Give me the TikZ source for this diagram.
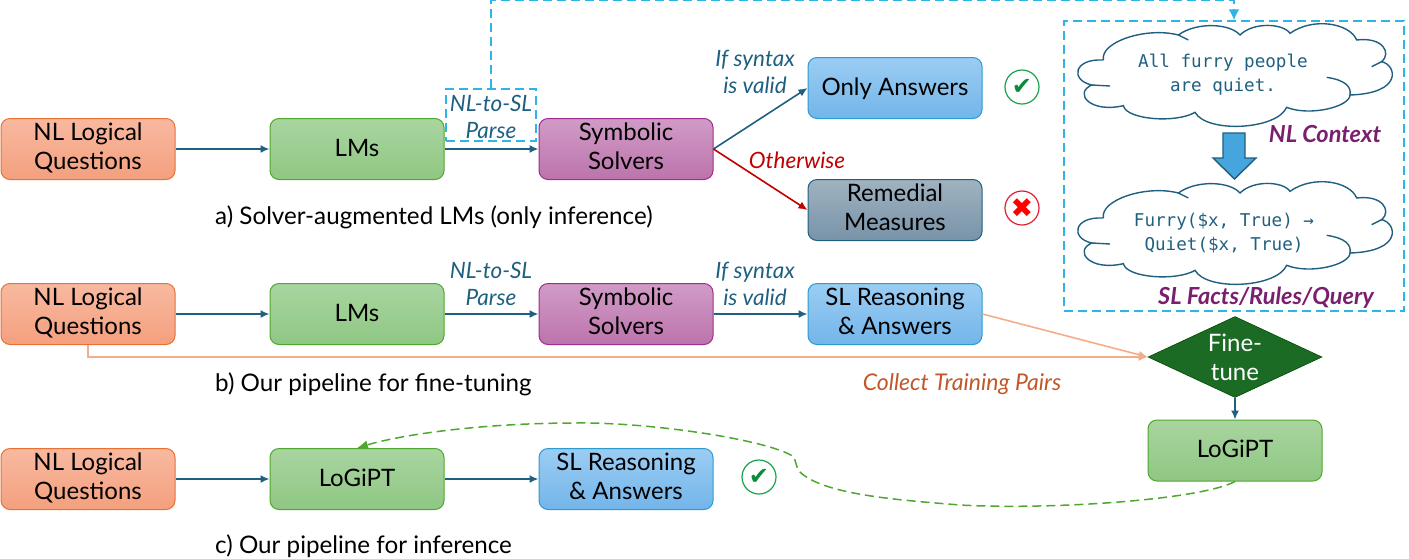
\documentclass[tikz,border=0pt]{standalone}
\usepackage{fontspec}
\setmainfont{Lato}
\newfontfamily\codefont{DejaVu Sans Mono}
\newfontfamily\markfont{DejaVu Sans}
\usetikzlibrary{shapes.geometric,arrows.meta}
\definecolor{flowblue}{HTML}{1F5F80}
\definecolor{dashcyan}{HTML}{2DB5E8}
\definecolor{softred}{HTML}{C00000}
\definecolor{pairorange}{HTML}{F2AE8A}
\definecolor{pairtext}{HTML}{C0562A}
\definecolor{factpurple}{HTML}{7A1F6E}
\definecolor{loopgreen}{HTML}{4EA72E}
\definecolor{okgreen}{HTML}{16A34A}
\newcommand{\topstrut}{\rule{0pt}{20.5pt}}
\newcommand{\lowstrut}{\rule[-6pt]{0pt}{6pt}}
\tikzset{
    mycloud/.pic = {
        \draw[flowblue, line width = 1.4pt, x = 0.3333pt, y = -0.3333pt]
            (-395,-45) .. controls (-405,-100) and (-265,-145) .. (-170,-120)
            .. controls (-115,-160) and (-15,-155) .. (15,-120)
            .. controls (55,-160) and (145,-155) .. (165,-125)
            .. controls (235,-175) and (345,-155) .. (365,-105)
            .. controls (445,-115) and (470,-65) .. (440,-40)
            .. controls (485,-30) and (505,55) .. (345,60)
            .. controls (345,95) and (225,125) .. (155,97)
            .. controls (125,165) and (-85,175) .. (-120,112)
            .. controls (-175,145) and (-325,135) .. (-335,92)
            .. controls (-435,115) and (-485,55) .. (-430,30)
            .. controls (-495,15) and (-485,-50) .. (-395,-45);
        \draw[flowblue, line width = 1.4pt, x = 0.3333pt, y = -0.3333pt]
            (-170,-120) -- (-140,-105)
            (-430,30) -- (-375,33)
            (440,-40) -- (410,-25)
            (275,7) .. controls (330,15) and (350,35) .. (345,60);
    }
}
\begin{document}
\begin{tikzpicture}[x = 1pt, y = 1pt, node distance = 269pt,
    main/.style = {draw, rounded corners = 9pt, line width = 1pt, minimum width = 174pt, minimum height = 61pt, inner sep = 0pt, align = center, font = \fontsize{24}{29}\selectfont, execute at begin node = \topstrut, execute at end node = \lowstrut},
    askbox/.style = {main, draw = {rgb,255:red,233;green,113;blue,50}, top color = {rgb,255:red,248;green,185;blue,160}, bottom color = {rgb,255:red,244;green,160;blue,126}},
    lmbox/.style = {main, draw = loopgreen, top color = {rgb,255:red,169;green,213;blue,160}, bottom color = {rgb,255:red,143;green,199;blue,131}},
    solverbox/.style = {main, draw = {rgb,255:red,160;green,43;blue,147}, top color = {rgb,255:red,209;green,155;blue,198}, bottom color = {rgb,255:red,188;green,116;blue,172}},
    answerbox/.style = {main, draw = {rgb,255:red,43;green,155;blue,208}, top color = {rgb,255:red,155;green,205;blue,243}, bottom color = {rgb,255:red,115;green,181;blue,234}},
    remedybox/.style = {main, draw = flowblue, top color = {rgb,255:red,160;green,178;blue,192}, bottom color = {rgb,255:red,120;green,147;blue,168}},
    flow/.style = {draw = flowblue, line width = 1.6pt, -{Latex[length = 9pt, width = 8pt]}},
    pairline/.style = {flow, draw = pairorange},
    hint/.style = {flowblue, align = center, font = \fontsize{22.5}{26.5}\selectfont\itshape},
    caption/.style = {anchor = west, inner sep = 0pt, font = \fontsize{24.2}{28}\selectfont},
    dashbox/.style = {draw = dashcyan, dash pattern = on 9pt off 5pt, line width = 1.5pt, inner sep = 0pt},
    code/.style = {flowblue, align = center, font = \fontsize{17.6}{24}\codefont},
    fact/.style = {factpurple, font = \fontsize{23.5}{25}\selectfont\bfseries\itshape},
    tick/.style = {draw = okgreen, circle, line width = 1.2pt, minimum size = 34pt, inner sep = 0pt, text = {rgb,255:red,10;green,140;blue,60}, font = \fontsize{24}{24}\markfont},
    cross/.style = {draw = {rgb,255:red,224;green,30;blue,50}, circle, line width = 1.2pt, minimum size = 34pt, inner sep = 0pt, text = red, font = \fontsize{27}{27}\markfont}]
    \useasboundingbox (0,0) rectangle (1409,-558);

    % row a
    \node[askbox] (q1) at (88,-149) {NL Logical\\Questions};
    \node[lmbox] (lm1) [right of = q1] {LMs};
    \node[solverbox] (sol1) [right of = lm1] {Symbolic\\Solvers};
    \node[answerbox] (ans1) at (895,-88) {Only Answers};
    \node[remedybox] (rem1) at (895,-210) {Remedial\\Measures};
    \node[tick] (ok1) at (1022,-87) {✔};
    \node[cross] (no1) at (1022,-208) {✖};
    \node[dashbox, minimum width = 90pt, minimum height = 52pt] (parse) at (491,-115) {};
    \node[hint] (p1) at (491,-117) {NL-to-SL\\Parse};
    \node[hint] (v1) at (755,-72) {If syntax\\is valid};
    \node[hint, text = softred] (other) at (797,-160) {Otherwise};
    \node[caption] (cap1) at (215,-217) {a) Solver-augmented LMs (only inference)};

    \draw[flow] (q1) -- (lm1);
    \draw[flow] (lm1) -- (sol1);
    \draw[flow] (sol1.east) -- (ans1.west);
    \draw[flow, draw = softred] (sol1.east) -- (rem1.west);

    % facts panel
    \node[dashbox, minimum width = 340pt, minimum height = 290pt] (facts) at (1234,-166) {};
    \draw[dashbox, -{Latex[length = 11pt, width = 11pt]}] (parse.north) -- ++(0,88) -| (facts.north);
    \pic at (1235,-75) {mycloud};
    \pic at (1235,-233) {mycloud};
    \node[code] (c1) at (1223,-75) {All furry people\\are quiet.};
    \node[code] (c2) at (1224,-233) {Furry(\$x, True) →\\Quiet(\$x, True)};
    \node[fact] (f1) at (1325,-134) {NL Context};
    \node[fact] (f2) at (1266,-298) {SL Facts/Rules/Query};
    \draw[flowblue, line width = 1.4pt, fill = {rgb,255:red,69;green,165;blue,220}] (1223,-133) -- (1245,-133) -- (1245,-158) -- (1256,-158) -- (1234.5,-179) -- (1213,-158) -- (1223,-158) -- cycle;

    % row b
    \node[askbox] (q2) at (88,-314) {NL Logical\\Questions};
    \node[lmbox] (lm2) [right of = q2] {LMs};
    \node[solverbox] (sol2) [right of = lm2] {Symbolic\\Solvers};
    \node[answerbox] (ans2) [right of = sol2] {SL Reasoning\\\& Answers};
    \node[hint] (p2) at (491,-284) {NL-to-SL\\Parse};
    \node[hint] (v2) at (755,-284) {If syntax\\is valid};
    \node[caption] (cap2) at (215,-384) {b) Our pipeline for fine-tuning};
    \node[diamond, fill = {rgb,255:red,27;green,107;blue,36}, draw = black!70!green, line width = .6pt, minimum width = 174pt, minimum height = 81pt, inner sep = -8pt, aspect = 2.15, align = center, text = white, font = \fontsize{24}{29}\selectfont] (tune) at (1235,-357) {Fine-\\tune};
    \node[lmbox] (gpt1) at (1235,-450.5) {LoGiPT};
    \node[hint, text = pairtext, font = \fontsize{23}{26}\selectfont\itshape] (pairs) at (962,-384) {Collect Training Pairs};

    \draw[flow] (q2) -- (lm2);
    \draw[flow] (lm2) -- (sol2);
    \draw[flow] (sol2) -- (ans2);
    \draw[flow] (tune) -- (gpt1);
    \draw[pairline] (ans2.east) -- (tune.west);
    \draw[pairline] (q2.south) |- (tune.west);

    % row c
    \node[askbox] (q3) at (88,-479) {NL Logical\\Questions};
    \node[lmbox] (gpt2) [right of = q3] {LoGiPT};
    \node[answerbox] (ans3) [right of = gpt2] {SL Reasoning\\\& Answers};
    \node[tick] (ok3) at (759,-477) {✔};
    \node[caption] (cap3) at (215,-546) {c) Our pipeline for inference};

    \draw[flow] (q3) -- (gpt2);
    \draw[flow] (gpt2) -- (ans3);
    \draw[draw = loopgreen, dash pattern = on 9pt off 5pt, line width = 1.5pt, -{Latex[length = 11pt, width = 9pt]}]
        (gpt1.south) .. controls (1200,-500) and (1050,-510) .. (960,-505)
        .. controls (900,-500) and (820,-495) .. (798,-470)
        .. controls (796,-464) and (795,-460) .. (794,-457)
        .. controls (770,-440) and (650,-422) .. (576,-423)
        .. controls (480,-423) and (400,-435) .. (gpt2.north);
\end{tikzpicture}
\end{document}
